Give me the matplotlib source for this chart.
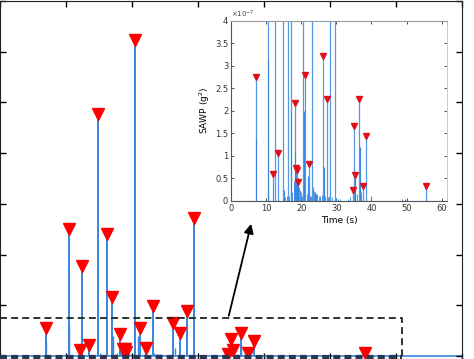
import numpy as np
import matplotlib
matplotlib.use('Agg')
import matplotlib.pyplot as plt

plt.rcParams['lines.scale_dashes'] = False

# peaks picked out (time in s, SAWP in 1e-7 g^2)
peak_times = [7.0, 10.4, 12.1, 12.5, 13.5, 14.8, 16.2, 17.0, 18.2, 18.6, 18.9, 19.1,
              20.5, 21.2, 22.1, 23.2, 26.3, 27.3, 28.3, 29.5, 34.6, 35.1, 35.3,
              36.5, 37.6, 38.5, 55.4]
peak_vals = [2.75, 12.5, 0.6, 8.85, 1.07, 23.9, 12.0, 5.8, 2.17, 0.73, 0.69, 0.43,
             31.2, 2.79, 0.81, 4.9, 3.22, 2.27, 4.4, 13.6, 0.24, 1.66, 0.58,
             2.27, 0.33, 1.44, 0.33]

# other spikes of the signal with no marker
spike_times = [7.05, 10.5, 15.1, 17.2, 18.3, 19.0, 20.9, 22.0, 23.8, 24.3, 26.6,
               30.5, 35.2, 36.6, 40.0, 48.6, 49.6]
spike_vals = [1.4, 3.1, 0.25, 2.0, 1.1, 0.5, 2.0, 0.55, 0.2, 0.15, 0.75,
              0.05, 0.5, 1.2, 0.12, 0.04, 0.05]

# low level noise around the busy part
noise_times = [15.5, 16.0, 16.6, 17.4, 17.8, 18.0, 18.4, 18.7, 19.2, 19.4, 19.6,
               19.8, 20.2, 21.5, 21.8, 22.4, 22.8, 23.4, 23.6, 24.0, 24.6, 25.0,
               25.4, 25.8, 26.9, 27.6, 28.0, 28.8, 29.9, 31.0, 33.2, 34.0, 36.0, 37.1]
noise_vals = [0.08, 0.1, 0.12, 0.2, 0.3, 0.45, 0.4, 0.35, 0.38, 0.3, 0.25,
              0.2, 0.12, 0.15, 0.1, 0.12, 0.1, 0.3, 0.22, 0.18, 0.15, 0.12,
              0.1, 0.14, 0.1, 0.08, 0.1, 0.08, 0.06, 0.04, 0.05, 0.08, 0.15, 0.2]

x_ticks = [0, 10, 20, 30, 40, 50, 60, 70]
y_ticks = [0, 5, 10, 15, 20, 25, 30, 35]
inset_xticks = [0, 10, 20, 30, 40, 50, 60]
inset_yticks = [0, 0.5, 1, 1.5, 2, 2.5, 3, 3.5, 4]

blue = '#3787e0'

fig = plt.figure(figsize=(4.74, 3.59), dpi=100)
ax = fig.add_axes([0.0, 0.0, 461.5 / 474, 358 / 359])

ax.axhline(0, color=blue, lw=1.2, zorder=1)
ax.vlines(noise_times, 0, noise_vals, color=blue, lw=0.8)
ax.vlines(spike_times, 0, spike_vals, color=blue, lw=1.0)
ax.vlines(peak_times, 0, peak_vals, color=blue, lw=1.4)
ax.plot(peak_times, peak_vals, 'v', color='red', mec='red', ms=8, zorder=4)

ax.set_xlim(0, 70)
ax.set_ylim(-0.3, 35)
ax.set_xticks(x_ticks)
ax.set_yticks(y_ticks)
ax.tick_params(direction='in', top=True, right=True, length=4, width=1,
               labelbottom=False, labelleft=False)
for s in ax.spines.values():
    s.set_color('#222222')

# dashed box showing the zoomed region
box_t, box_v = 61, 3.7
ax.plot([0, box_t, box_t], [box_v, box_v, 0], color='#222222', lw=1.3,
        dashes=(5, 3), zorder=5)
ax.plot([0, box_t], [-0.15, -0.15], color='#2a3550', lw=3, dashes=(5, 3),
        zorder=5, clip_on=False)
ax.annotate('', xy=(38.2, 13.3), xytext=(34.6, 3.7),
            arrowprops=dict(arrowstyle='-|>', color='black', lw=1.3,
                            mutation_scale=14))

# inset
ax2 = fig.add_axes([231 / 474, (359 - 201) / 359, 216 / 474, 180.5 / 359])
ax2.set_facecolor('white')
ax2.axhline(0, color=blue, lw=0.8, zorder=1)
ax2.vlines(noise_times, 0, noise_vals, color=blue, lw=0.6)
ax2.vlines(spike_times, 0, spike_vals, color=blue, lw=0.8)
ax2.vlines(peak_times, 0, peak_vals, color=blue, lw=0.9, alpha=0.85)
ax2.plot(peak_times, peak_vals, 'v', color='#e0101a', mec='#e0101a', ms=4, zorder=4)
ax2.set_xlim(0, 61.5)
ax2.set_ylim(0, 4)
ax2.set_xticks(inset_xticks)
ax2.set_yticks(inset_yticks)
ax2.set_yticklabels(['0', '0.5', '1', '1.5', '2', '2.5', '3', '3.5', '4'])
ax2.tick_params(direction='in', top=True, right=True, length=2, width=0.6,
                labelsize=6, pad=2, colors='#333333')
ax2.spines['left'].set_color('#555555')
ax2.spines['bottom'].set_color('#555555')
ax2.spines['top'].set_color('#999999')
ax2.spines['right'].set_color('#cccccc')
ax2.set_xlabel('Time (s)', fontsize=6.5, labelpad=2)
ax2.set_ylabel('SAWP (g$^2$)', fontsize=6.5, labelpad=2)
ax2.text(0.0, 1.005, r'$\times10^{-7}$', transform=ax2.transAxes, fontsize=5,
         color='#444444', va='bottom')

fig.savefig('out.png', dpi=100)
